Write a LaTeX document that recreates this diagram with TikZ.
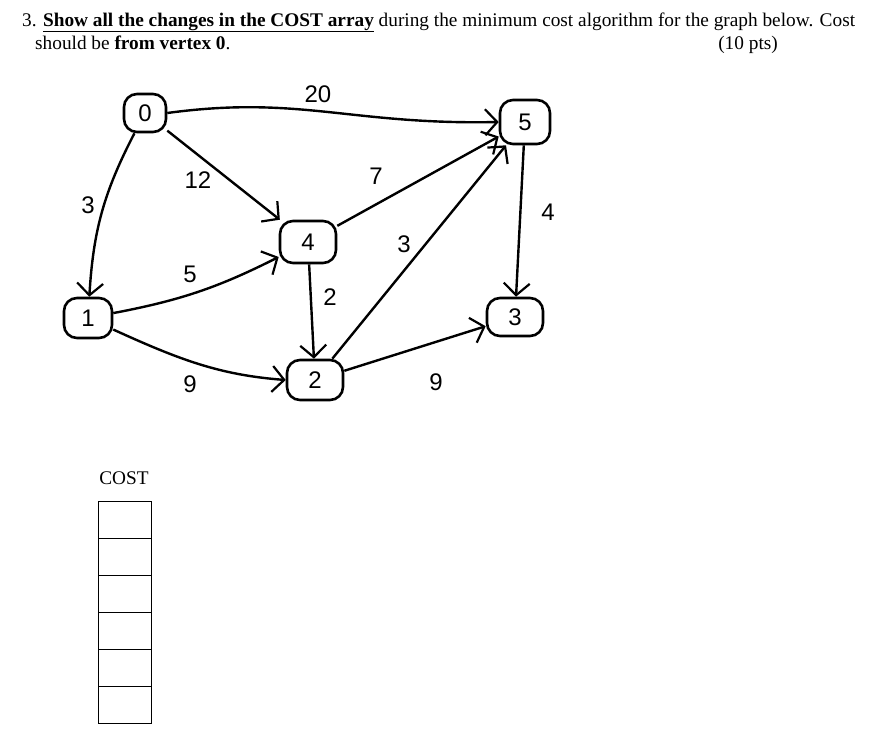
\documentclass[tikz,border=0pt]{standalone}
\usepackage{fontspec}
\setmainfont{Liberation Serif}
\newfontfamily\hand{Liberation Sans}
\usetikzlibrary{arrows.meta}
\begin{document}
\begin{tikzpicture}[x=1pt,y=-1pt,
  vtx/.style={draw,line width=2.6pt,rounded corners=13pt,minimum width=#1,minimum height=38pt,font=\hand\fontsize{24}{24}\selectfont,inner sep=0pt},
  edge/.style={line width=2.4pt,-{Straight Barb[length=12pt,width=26pt,line width=2.2pt]}},
  lbl/.style={font=\hand\fontsize{24}{24}\selectfont},
  cell/.style={draw,line width=0.8pt,minimum width=53pt,minimum height=37pt,inner sep=0pt}]
\useasboundingbox (0,0) rectangle (889,744);
\node[anchor=base west,font=\fontsize{19.3}{21}\selectfont,inner sep=0pt] (h1) at (22,26) {3. \textbf{\underline{Show all the changes in the COST array}} during the minimum cost algorithm for the graph below. Cost};
\node[anchor=base west,font=\fontsize{19.3}{21}\selectfont,inner sep=0pt] (h2) at (35,49) {should be \textbf{from vertex 0}.};
\node[anchor=base east,font=\fontsize{19.3}{21}\selectfont,inner sep=0pt] (h3) at (778,49) {(10 pts)};
\node[vtx=42pt] (n0) at (145,113) {0};
\node[vtx=50pt,minimum height=44pt] (n5) at (525,122) {5};
\node[vtx=56pt,minimum height=42pt] (n4) at (308,242) {4};
\node[vtx=48pt,minimum height=40pt] (n1) at (88,318) {1};
\node[vtx=56pt] (n3) at (515,317) {3};
\node[vtx=56pt,minimum height=40pt] (n2) at (315,380) {2};
\draw[edge] (n0.east) .. controls (300,95) and (350,125) .. (n5.west);
\draw[edge] (n0) -- (n4);
\draw[edge] (n0) to[bend right=12] (n1);
\draw[edge] (n1) to[bend right=8] (n4);
\draw[edge] (n1) .. controls (180,360) and (220,375) .. (n2.west);
\draw[edge] (n4) -- (n2);
\draw[edge] (n4) -- (n5);
\draw[edge] (n2) -- (n5);
\draw[edge] (n2) -- (n3);
\draw[edge] (n5) -- (n3);
\node[lbl] (l1) at (318,94) {20};
\node[lbl] (l2) at (198,180) {12};
\node[lbl] (l3) at (88,205) {3};
\node[lbl] (l4) at (376,176) {7};
\node[lbl] (l5) at (548,212) {4};
\node[lbl] (l6) at (190,274) {5};
\node[lbl] (l7) at (330,297) {2};
\node[lbl] (l8) at (404,244) {3};
\node[lbl] (l9) at (190,384) {9};
\node[lbl] (l10) at (436,382) {9};
\node[font=\fontsize{19.3}{21}\selectfont] (cost) at (124,478) {COST};
\foreach \i in {0,...,5} \node[cell] (c\i) at (124.5,519.5+37*\i) {};
\end{tikzpicture}
\end{document}
